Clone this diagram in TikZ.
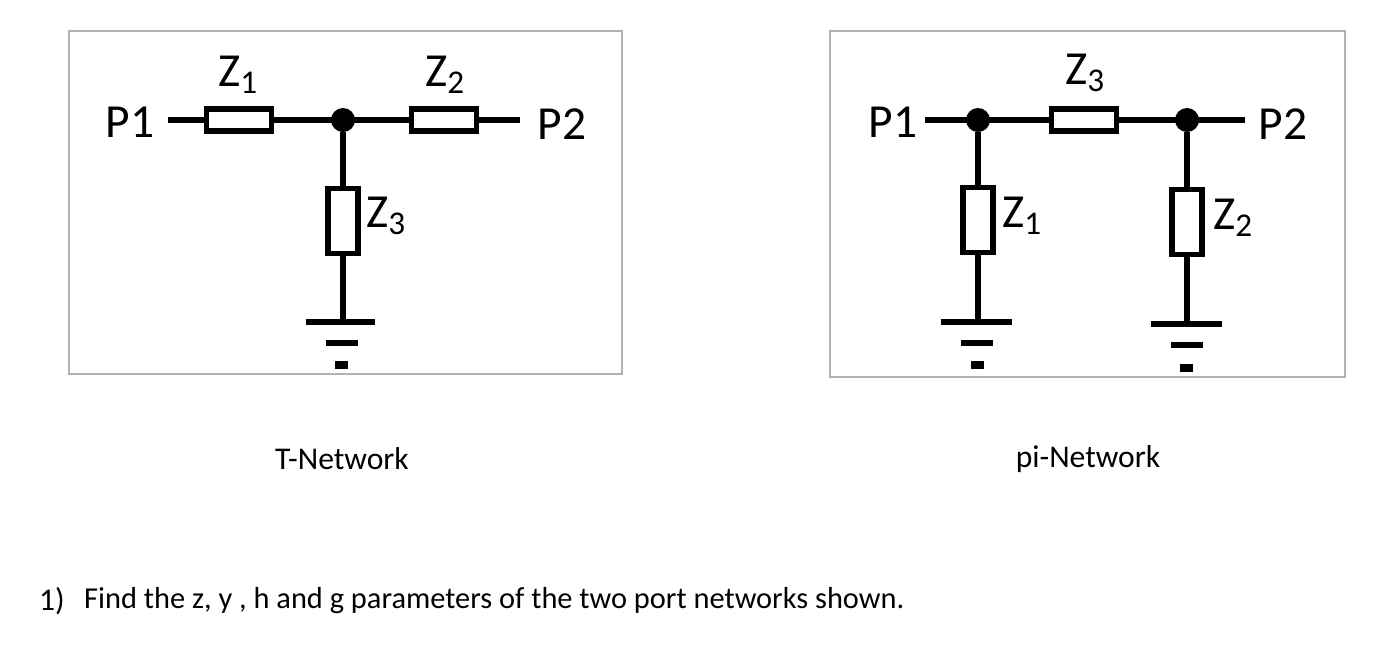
\documentclass[tikz,border=0pt]{standalone}
\usepackage{fontspec}
\setmainfont{Carlito}
\usetikzlibrary{positioning}
\tikzset{
  wire/.style={line width=3.4pt},
  resh/.style={draw,line width=3.2pt,minimum width=1.3cm,minimum height=0.45cm,inner sep=0pt},
  resv/.style={draw,line width=3.2pt,minimum width=0.6cm,minimum height=1.3cm,inner sep=0pt},
  dot/.style={circle,fill,inner sep=0pt,minimum size=0.48cm},
  lbl/.style={font=\fontsize{27}{31}\selectfont},
  txt/.style={font=\fontsize{18}{21}\selectfont},
  frame/.style={draw=gray!60,line width=0.8pt}
}
\begin{document}
\begin{tikzpicture}[x=0.02cm,y=-0.02cm]
\useasboundingbox (0,0) rectangle (1395,654);
% Frames
\draw[frame] (69,31) rectangle (622,374);
\draw[frame] (830,31) rectangle (1345,377);

% T-Network
\node[lbl] (tp1) at (130,122) {P1};
\node[resh] (tz1) at (239,120) {};
\node[dot] (tj) at (343,120) {};
\node[resh] (tz2) at (444,120) {};
\node[lbl] (tp2) at (562,124) {P2};
\node[resv] (tz3) at (343,221) {};
\coordinate (tg) at (343,322);
\coordinate (tw1) at (168,120);
\coordinate (tw2) at (520,120);
\draw[wire] (tw1) -- (tz1.west) (tz1.east) -- (tz2.west) (tz2.east) -- (tw2);
\draw[wire] (tj) -- (tz3.north) (tz3.south) -- (tg);
\draw[wire] (306,322) -- (375,322);
\draw[wire] (326,343) -- (358,343);
\draw[line width=5pt] (335,365) -- (348,365);
\node[lbl] at (238,75) {Z\textsubscript{1}};
\node[lbl] at (445,75) {Z\textsubscript{2}};
\node[lbl] at (386,216) {Z\textsubscript{3}};

% pi-Network
\node[lbl] (pp1) at (893,122) {P1};
\node[dot] (pj1) at (978,120) {};
\node[resh] (pz3) at (1084,120) {};
\node[dot] (pj2) at (1187,120) {};
\node[lbl] (pp2) at (1283,124) {P2};
\node[resv] (pz1) at (978,220) {};
\node[resv] (pz2) at (1187,222) {};
\coordinate (pg1) at (978,322);
\coordinate (pg2) at (1187,324);
\coordinate (pw1) at (925,120);
\coordinate (pw2) at (1245,120);
\draw[wire] (pw1) -- (pz3.west) (pz3.east) -- (pw2);
\draw[wire] (pj1) -- (pz1.north) (pz1.south) -- (pg1);
\draw[wire] (pj2) -- (pz2.north) (pz2.south) -- (pg2);
\draw[wire] (941,322) -- (1012,322);
\draw[wire] (961,343) -- (993,343);
\draw[line width=5pt] (971,365) -- (984,365);
\draw[wire] (1151,324) -- (1222,324);
\draw[wire] (1171,345) -- (1203,345);
\draw[line width=5pt] (1180,368) -- (1193,368);
\node[lbl] at (1085,73) {Z\textsubscript{3}};
\node[lbl] at (1022,216) {Z\textsubscript{1}};
\node[lbl] at (1233,218) {Z\textsubscript{2}};

% Captions
\node[txt] at (342,459) {T-Network};
\node[txt] at (1088,459) {pi-Network};
\node[txt,anchor=west] at (33,601) {1)};
\node[txt,anchor=west,font=\fontsize{17.3}{20}\selectfont] at (78,601) {Find the z, y , h and g parameters of the two port networks shown.};
\end{tikzpicture}
\end{document}
